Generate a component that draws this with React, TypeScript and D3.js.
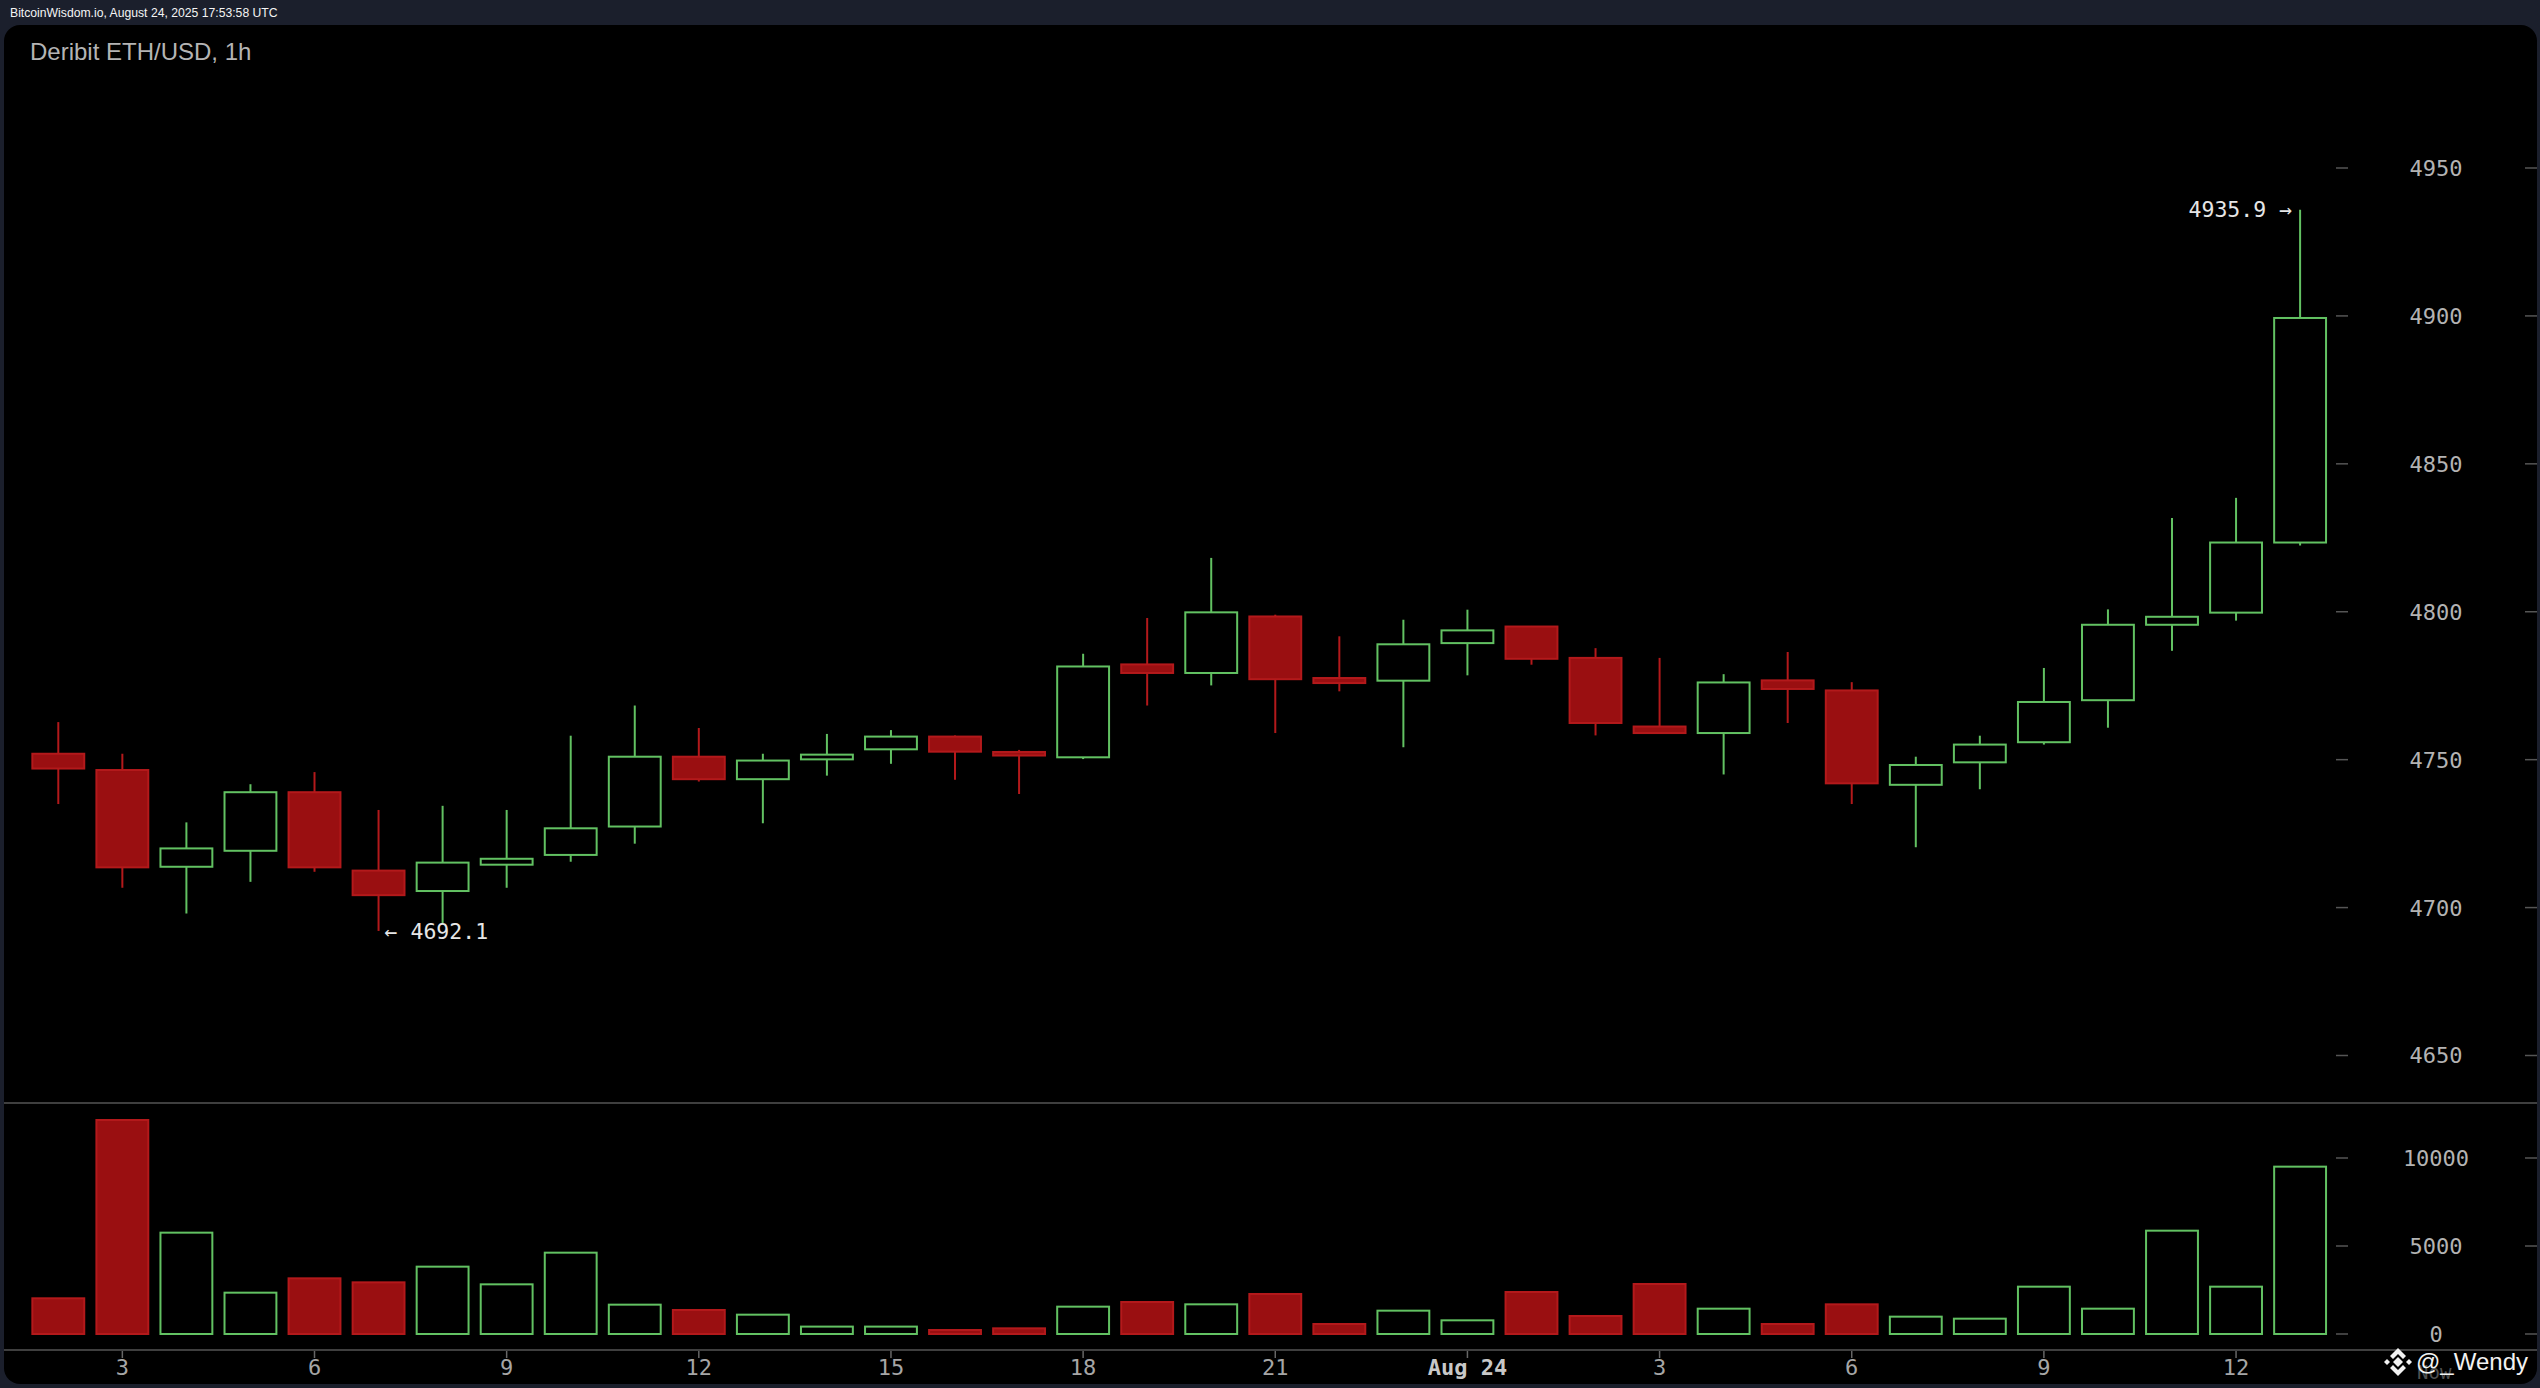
import React from 'react';
import * as d3 from 'd3';

const W = 2540;
const H = 1388;

// ---- data (Deribit ETH/USD, 1h, Aug 23 02:00 UTC .. Aug 24 13:00 UTC) ----
const startTime = new Date(Date.UTC(2025, 7, 23, 2));
const endTime = new Date(Date.UTC(2025, 7, 24, 13));

const opens = [4752, 4746.5, 4713.8, 4719.2, 4739, 4712.5, 4705.6, 4714.5, 4717.8, 4727.4, 4751, 4743.4,
  4750.1, 4753.5, 4757.8, 4752.6, 4750.8, 4782.2, 4779.3, 4798.4, 4777.6, 4776.7, 4789.4, 4795,
  4784.4, 4761.2, 4759, 4776.8, 4773.4, 4741.5, 4749.1, 4755.9, 4770.1, 4795.6, 4799.7, 4823.4];
const highs = [4762.7, 4752, 4728.8, 4741.7, 4745.8, 4733, 4734.4, 4733, 4758.1, 4768.3, 4760.7, 4752,
  4758.7, 4760, 4758.2, 4753.3, 4785.8, 4797.9, 4818.2, 4799, 4791.7, 4797.3, 4800.7, 4795.2,
  4787.7, 4784.4, 4778.9, 4786.4, 4776.2, 4751, 4758.1, 4781, 4800.8, 4831.7, 4838.5, 4935.9];
const lows = [4735, 4706.7, 4698, 4708.7, 4712.1, 4692.1, 4694.6, 4706.7, 4715.5, 4721.6, 4742.6, 4728.5,
  4744.6, 4748.6, 4743.2, 4738.4, 4750.2, 4768.3, 4775.1, 4759, 4773.1, 4754.2, 4778.5, 4782.1,
  4758.2, 4759, 4745, 4762.4, 4735, 4720.4, 4740, 4755.1, 4760.8, 4786.8, 4797, 4822.4];
const closes = [4747, 4713.6, 4720, 4739, 4713.6, 4704.2, 4715.2, 4716.5, 4726.8, 4751, 4743.4, 4749.7,
  4751.7, 4757.8, 4752.7, 4751.4, 4781.5, 4779.3, 4799.8, 4777.2, 4775.9, 4789, 4793.7, 4784.1,
  4762.4, 4759, 4776.1, 4773.9, 4742, 4748.2, 4755.1, 4769.5, 4795.6, 4798.3, 4823.4, 4899.3];
const volumes = [2028, 12159, 5758, 2348, 3163, 2935, 3826, 2822, 4621, 1667, 1364, 1098,
  420, 420, 227, 322, 1553, 1818, 1686, 2273, 568, 1326, 777, 2386,
  1023, 2841, 1439, 568, 1686, 985, 871, 2689, 1439, 5871, 2689, 9508];

const priceTicks = [4650, 4700, 4750, 4800, 4850, 4900, 4950];
const volumeTicks = [0, 5000, 10000];

const headerText = 'BitcoinWisdom.io, August 24, 2025 17:53:58 UTC';
const titleText = 'Deribit ETH/USD, 1h';

// ---- styles ----
const BG = '#1b1f2c';
const GREEN = '#62c162';
const RED_FILL = '#9a0f11';
const RED_STROKE = '#b3191b';
const AXIS_TEXT = '#b3b3b3';
const GRID_LINE = '#3f3f3f';
const MONO = '"DejaVu Sans Mono", monospace';
const SANS = '"Liberation Sans", Arial, sans-serif';

export default function App() {
  const times = d3.utcHour.range(startTime, d3.utcHour.offset(endTime, 1));
  const data = times.map((t, i) => ({ t, o: opens[i], h: highs[i], l: lows[i], c: closes[i], v: volumes[i] }));

  const x = d3.scaleUtc().domain([startTime, endTime]).range([58.3, 2300.1]);
  const step = x(d3.utcHour.offset(startTime, 1)) - x(startTime);
  const bw = step * 0.81;

  const yP = d3.scaleLinear().domain([4650, 4950]).range([1055.5, 168]);
  const yV = d3.scaleLinear().domain([0, 10000]).range([1334, 1158]);

  const timeTicks = x.ticks(d3.utcHour.every(3));
  const fmtTick = (d: Date) => (d.getUTCHours() === 0 ? d3.utcFormat('%b %d')(d).replace(/ 0/, ' ') : String(d.getUTCHours()));

  const minIdx = d3.minIndex(data, (d) => d.l);
  const maxIdx = d3.maxIndex(data, (d) => d.h);

  return (
    <svg width={W} height={H} style={{ position: 'fixed', left: 0, top: 0, display: 'block' }}>
      <rect x={0} y={0} width={W} height={H} fill={BG} />
      <text x={10} y={17} fontFamily={SANS} fontSize={12.2} fill="#f4f4f4">{headerText}</text>
      <rect x={4} y={25} width={2533} height={1359} rx={16} ry={16} fill="#000" />
      <text x={30} y={60} fontFamily={SANS} fontSize={24} fill="#b4b4b4">{titleText}</text>

      {/* panel separators */}
      <line x1={4} x2={2537} y1={1103} y2={1103} stroke={GRID_LINE} strokeWidth={2} />
      <line x1={4} x2={2537} y1={1350} y2={1350} stroke={GRID_LINE} strokeWidth={2} />

      {/* price axis */}
      {priceTicks.map((p) => (
        <g key={'p' + p}>
          <line x1={2336} x2={2348} y1={yP(p)} y2={yP(p)} stroke="#555" strokeWidth={1.5} />
          <line x1={2525} x2={2537} y1={yP(p)} y2={yP(p)} stroke="#555" strokeWidth={1.5} />
          <text x={2436} y={yP(p)} dy="0.36em" textAnchor="middle" fontFamily={MONO} fontSize={22} fill={AXIS_TEXT}>{p}</text>
        </g>
      ))}

      {/* volume axis */}
      {volumeTicks.map((v) => (
        <g key={'v' + v}>
          <line x1={2336} x2={2348} y1={yV(v)} y2={yV(v)} stroke="#555" strokeWidth={1.5} />
          <line x1={2525} x2={2537} y1={yV(v)} y2={yV(v)} stroke="#555" strokeWidth={1.5} />
          <text x={2436} y={yV(v)} dy="0.36em" textAnchor="middle" fontFamily={MONO} fontSize={22} fill={AXIS_TEXT}>{v}</text>
        </g>
      ))}

      {/* time axis */}
      {timeTicks.map((t, i) => {
        const isDay = t.getUTCHours() === 0;
        return (
          <g key={'t' + i}>
            <line x1={x(t)} x2={x(t)} y1={1351} y2={1358} stroke="#666" strokeWidth={1.5} />
            <text x={x(t)} y={1375} textAnchor="middle" fontFamily={MONO} fontSize={22}
              fontWeight={isDay ? 'bold' : 'normal'} fill={isDay ? '#c8c8c8' : '#a6a6a6'}>{fmtTick(t)}</text>
          </g>
        );
      })}
      <text x={2417} y={1379} fontFamily={MONO} fontSize={19} fill="#505050">Now</text>

      {/* candles */}
      {data.map((d, i) => {
        const cx = x(d.t);
        const up = d.c >= d.o;
        const col = up ? GREEN : RED_STROKE;
        const top = yP(Math.max(d.o, d.c));
        const bot = yP(Math.min(d.o, d.c));
        return (
          <g key={'c' + i}>
            <line x1={cx} x2={cx} y1={yP(d.h)} y2={yP(d.l)} stroke={col} strokeWidth={2} />
            <rect x={cx - bw / 2} y={top} width={bw} height={Math.max(bot - top, 2)}
              fill={up ? '#000' : RED_FILL} stroke={col} strokeWidth={2} />
          </g>
        );
      })}

      {/* volume bars */}
      {data.map((d, i) => {
        const cx = x(d.t);
        const up = d.c >= d.o;
        return (
          <rect key={'vb' + i} x={cx - bw / 2} y={yV(d.v)} width={bw} height={yV(0) - yV(d.v)}
            fill={up ? '#000' : RED_FILL} stroke={up ? GREEN : RED_STROKE} strokeWidth={2} />
        );
      })}

      {/* extremes */}
      <text x={x(data[minIdx].t) + 6} y={yP(data[minIdx].l)} dy="0.36em" fontFamily={MONO} fontSize={21.5} fill="#e6e6e6">
        {'← ' + data[minIdx].l.toFixed(1)}
      </text>
      <text x={x(data[maxIdx].t) - 8} y={yP(data[maxIdx].h)} dy="0.36em" textAnchor="end" fontFamily={MONO} fontSize={21.5} fill="#e6e6e6">
        {data[maxIdx].h.toFixed(1) + ' →'}
      </text>

      {/* watermark */}
      <g transform="translate(2398,1362)" fill="#f2f2f2">
        <path d="M0,-5 L5,0 L0,5 L-5,0 Z" />
        <path d="M-11,-3 L-8,0 L-11,3 L-14,0 Z" />
        <path d="M11,-3 L14,0 L11,3 L8,0 Z" />
        <path d="M0,-14 L8,-6 L5,-3 L0,-8 L-5,-3 L-8,-6 Z" />
        <path d="M0,14 L8,6 L5,3 L0,8 L-5,3 L-8,6 Z" />
      </g>
      <text x={2416} y={1370} fontFamily={SANS} fontSize={24} fill="#f2f2f2">@_Wendy</text>
    </svg>
  );
}
